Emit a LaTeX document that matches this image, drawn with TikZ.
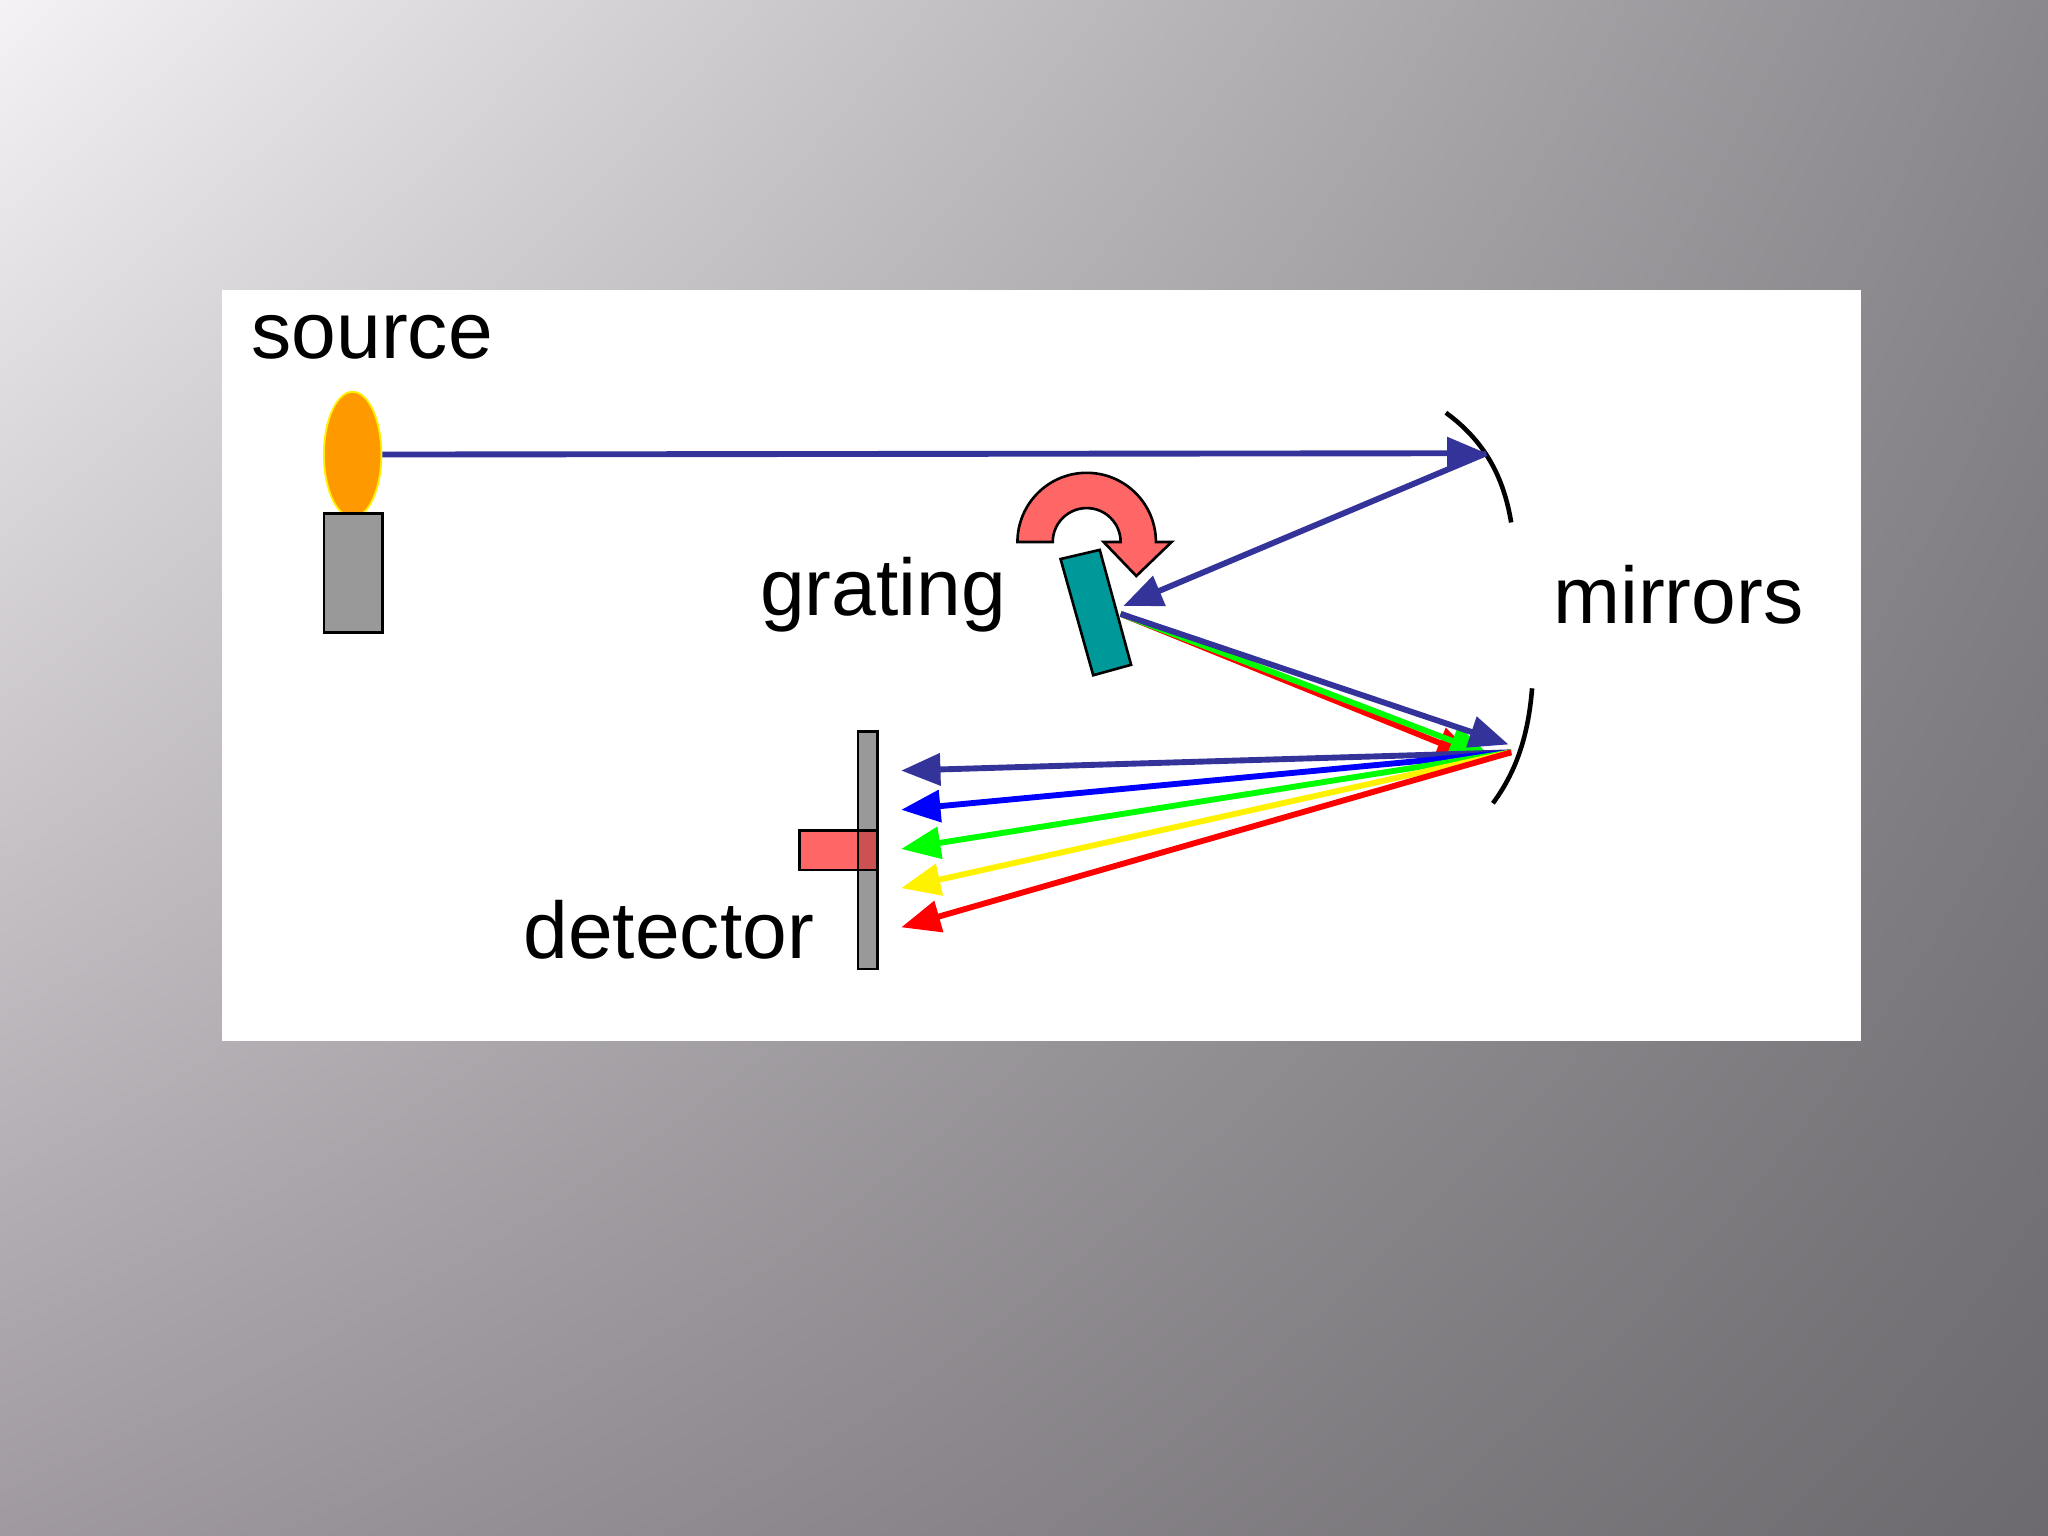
\documentclass[tikz,border=0pt]{standalone}
\usepackage{fontspec}
\setmainfont{Liberation Sans}
\usetikzlibrary{arrows.meta,shadings,shapes.geometric}
\definecolor{dblue}{HTML}{333399}
\definecolor{rd}{HTML}{FF6666}
\definecolor{teal2}{HTML}{009999}
\definecolor{flm}{HTML}{FF9900}
\definecolor{bgA}{HTML}{F4F2F4}
\definecolor{bgB}{HTML}{8A888C}
\definecolor{bgC}{HTML}{A09AA0}
\definecolor{bgD}{HTML}{6C6A6E}
\tikzset{ray/.style={line width=0.45mm,-{Triangle[length=3mm,width=2.4mm]}},
lbl/.style={font=\fontsize{17.5}{21}\selectfont,inner sep=0}}
\begin{document}
\begin{tikzpicture}[x=0.01cm,y=-0.01cm]
\useasboundingbox (0,0) rectangle (1568,1176);
\shade[upper left=bgA, upper right=bgB, lower left=bgC, lower right=bgD] (0,0) rectangle (1568,1176);
\fill[white] (170,222) rectangle (1425,797);
% source
\node[draw=yellow,fill=flm,ellipse,minimum width=0.44cm,minimum height=0.96cm,inner sep=0] (flame) at (270,348) {};
\node[draw=black,fill=gray!80,minimum width=0.45cm,minimum height=0.91cm,inner sep=0,line width=0.2mm] (base) at (270.5,438.5) {};
\node[lbl] (src) at (285,258) {source};
\node[lbl] (gr) at (676,455) {grating};
\node[lbl] (mir) at (1285,455) {mirrors};
\node[lbl] (det) at (512,712) {detector};
% mirrors
\draw[line width=0.35mm] (1107,316) .. controls (1140,340) and (1152,370) .. (1157,400);
\draw[line width=0.35mm] (1173,527) .. controls (1170,565) and (1160,592) .. (1143,615);
\coordinate (m1) at (1138,347);
\coordinate (m2) at (1157,576);
\coordinate (g) at (858,470);
% beams
\draw[ray,dblue] (flame.east) -- (m1);
\draw[ray,dblue] (m1) -- (860,464);
% grating
\draw[fill=teal2,line width=0.2mm] (812,428) -- (842,421) -- (866,509) -- (837,517) -- cycle;
% rotation arrow
\draw[fill=rd,line width=0.2mm] (779,415) arc[start angle=180,end angle=360,radius=53] -- (897,415) -- (870,441) -- (845,415) -- (858,415) arc[start angle=360,end angle=180,radius=26] -- cycle;
% rays to mirror 2
\draw[ray,red] (g) -- (1130,580);
\draw[ray,green] (g) -- (1140,578);
\draw[ray,dblue] (g) -- (1155,570);
% detector
\fill[gray!80] (657,560) rectangle (672,742);
\fill[rd] (612,636) rectangle (672,666);
\fill[rd!80!black] (657,636) rectangle (672,666);
\draw[line width=0.2mm] (657,560) rectangle (672,742);
\draw[line width=0.2mm] (612,636) rectangle (657,666);
\draw[line width=0.2mm] (657,636) -- (672,636) (657,666) -- (672,666);
% rays to detector
\draw[ray,dblue] (m2) -- (690,590);
\draw[ray,blue] (m2) -- (690,620);
\draw[ray,green] (m2) -- (690,650);
\draw[ray,yellow] (m2) -- (690,680);
\draw[ray,red] (m2) -- (690,710);
\end{tikzpicture}
\end{document}
